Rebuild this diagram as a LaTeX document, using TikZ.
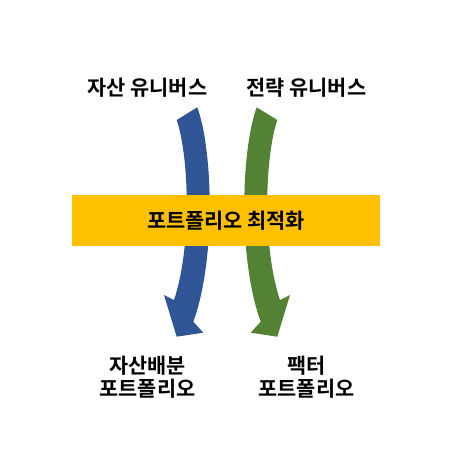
\documentclass[tikz,border=0pt]{standalone}
\usepackage{fontspec}
\newfontfamily\kr{Noto Sans CJK KR}[BoldFont={* Bold}]
\usepackage{tikz}

\begin{document}
\begin{tikzpicture}[
   x=1pt,y=-1pt,
   font=\kr\bfseries\fontsize{20.8}{23}\selectfont,
   lbl/.style={align=center,inner sep=0pt},
   band/.style={fill=optyellow,minimum width=308pt,minimum height=51pt,inner sep=0pt},
   bluearrow/.style={fill=assetblue},
   greenarrow/.style={fill=stratgreen}]
\definecolor{assetblue}{HTML}{2F5597}
\definecolor{stratgreen}{HTML}{548235}
\definecolor{optyellow}{HTML}{FFC000}
\useasboundingbox (0,0) rectangle (455,456);
\node[lbl] (assetU) at (147.5,88) {자산 유니버스};
\node[lbl] (stratU) at (306.5,88) {전략 유니버스};
\fill[bluearrow] (176.7,120) -- (197.3,107.3)
   .. controls (213,150) and (216,260) .. (193.3,321.7)
   -- (203.3,332.7) -- (176.7,336.7) -- (164,295) -- (174,300)
   .. controls (191,250) and (190,160) .. cycle;
\fill[greenarrow] (277.3,120) -- (256.7,107.3)
   .. controls (241,150) and (238,260) .. (260.7,321.7)
   -- (250.7,332.7) -- (277.3,336.7) -- (290,295) -- (280,300)
   .. controls (263,250) and (264,160) .. cycle;
\node[band] (opt) at (226,220.5) {포트폴리오 최적화};
\node[lbl] (assetP) at (147.5,377.5) {자산배분\\포트폴리오};
\node[lbl] (factorP) at (306.5,377.5) {팩터\\포트폴리오};
\end{tikzpicture}
\end{document}
